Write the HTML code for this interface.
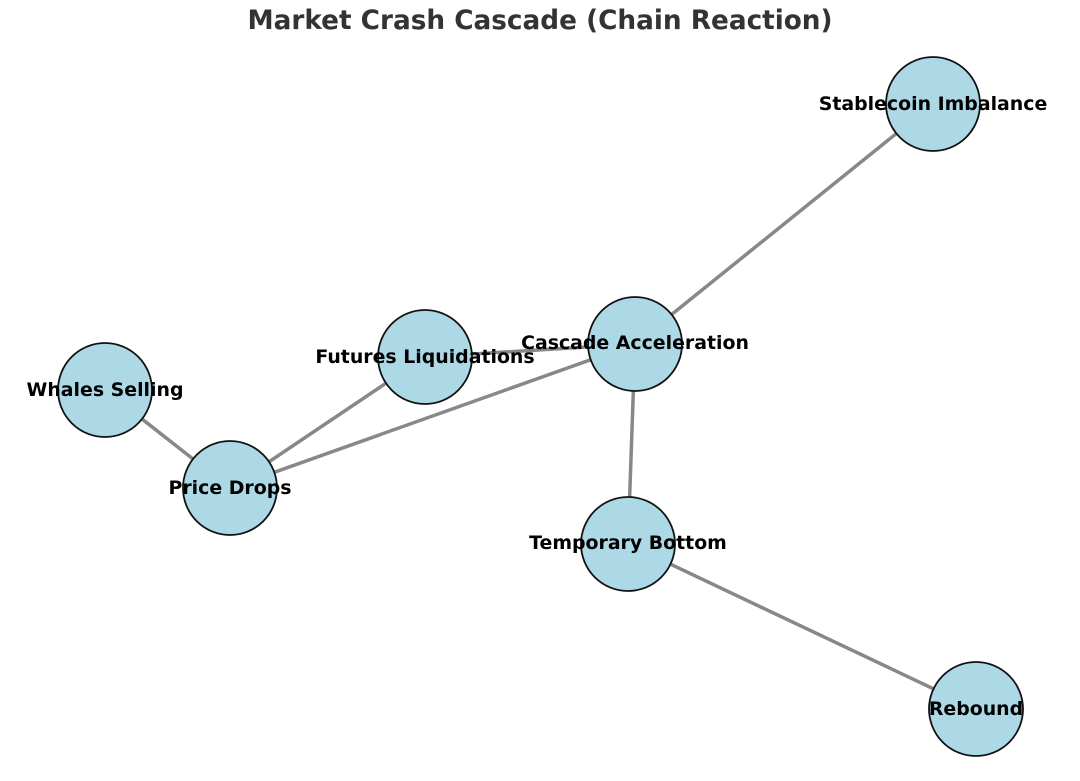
<!DOCTYPE html>
<html><head><meta charset="utf-8"><style>
html,body{margin:0;padding:0;background:#fff;}
svg{display:block;}
text{font-family:"DejaVu Sans","Liberation Sans",sans-serif;font-weight:bold;}
</style></head><body>
<svg width="1080" height="781" viewBox="0 0 1080 781" xmlns="http://www.w3.org/2000/svg">
<text x="540" y="29" text-anchor="middle" font-size="26.3" fill="#333">Market Crash Cascade (Chain Reaction)</text>
<g stroke="#888" stroke-width="3.5" fill="none">
<line x1="105" y1="390" x2="230" y2="488"/>
<line x1="230" y1="488" x2="425" y2="357"/>
<line x1="230" y1="488" x2="635" y2="344"/>
<line x1="425" y1="357" x2="635" y2="344"/>
<line x1="635" y1="344" x2="933" y2="104"/>
<line x1="635" y1="344" x2="628" y2="544"/>
<line x1="628" y1="544" x2="976" y2="709"/>
</g>
<g fill="#add8e6" stroke="#111" stroke-width="1.8">
<circle cx="933" cy="104" r="47"/>
<circle cx="635" cy="344" r="47"/>
<circle cx="425" cy="357" r="47"/>
<circle cx="105" cy="390" r="47"/>
<circle cx="230" cy="488" r="47"/>
<circle cx="628" cy="544" r="47"/>
<circle cx="976" cy="709" r="47"/>
</g>
<g font-size="18.9" fill="#000" text-anchor="middle">
<text x="933" y="110">Stablecoin Imbalance</text>
<text x="635" y="349">Cascade Acceleration</text>
<text x="425" y="363">Futures Liquidations</text>
<text x="105" y="396">Whales Selling</text>
<text x="230" y="494">Price Drops</text>
<text x="628" y="549">Temporary Bottom</text>
<text x="976" y="715">Rebound</text>
</g>
</svg>
</body></html>
